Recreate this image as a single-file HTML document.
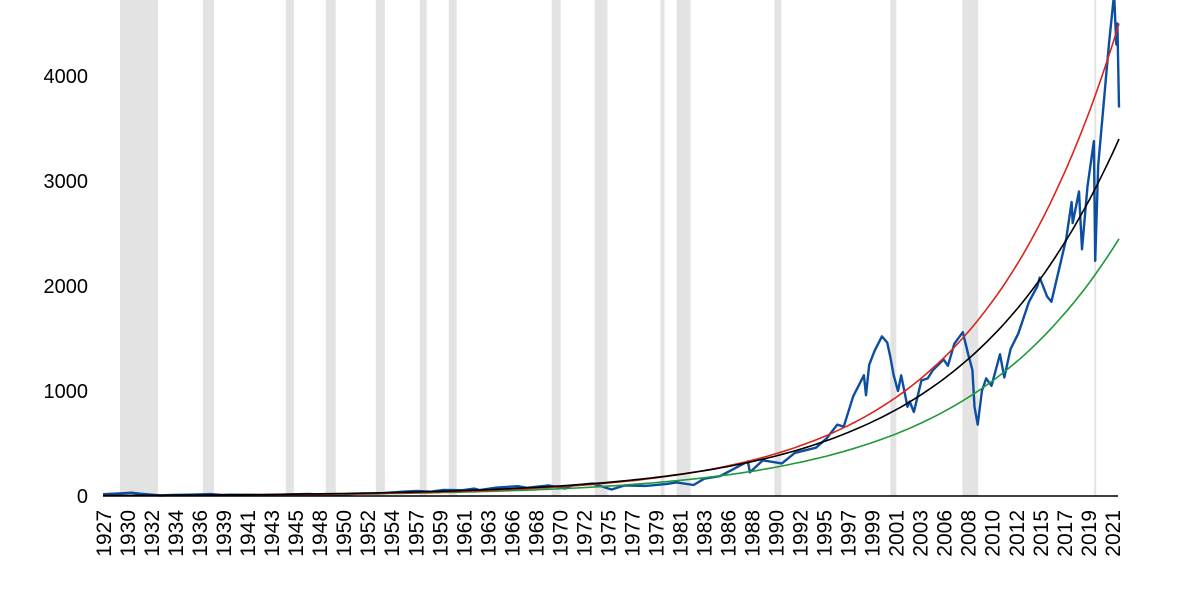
<!DOCTYPE html>
<html><head><meta charset="utf-8"><style>
html,body{margin:0;padding:0;background:#fff;}
svg{display:block;font-family:"Liberation Sans",Arial,sans-serif;}
</style></head><body>
<svg id="chart" width="1200" height="600"></svg>
<script>
const recessions = [[1929.58,1933.11],[1937.29,1938.32],[1945.0,1945.75],[1948.72,1949.65],[1953.37,1954.21],[1957.46,1958.11],[1960.16,1960.9],[1969.73,1970.57],[1973.72,1974.93],[1979.86,1980.23],[1981.35,1982.65],[1990.45,1991.1],[2001.23,2001.79],[2007.93,2009.41],[2020.19,2020.38]];
const trendYears = [1928,1932.95,1937.9,1942.85,1947.8,1952.75,1957.69,1962.64,1967.59,1972.54,1977.49,1982.44,1987.39,1992.34,1997.29,2002.24,2007.18,2012.13,2017.08,2022.5];
const trendMid = [5.2,7.3,10.2,14.4,20.2,28.4,39.8,56,78.6,110,155,218,306,430,605,849,1193,1676,2355,3400];
const trendHigh = [3.5,5.1,7.4,10.8,15.7,22.9,33.3,48.5,70.5,103,149,217,316,460,670,974,1417,2062,3001,4500];
const trendLow = [3.7,5.3,7.3,10.4,14.5,20.4,28.7,40.3,56.6,79.2,112,157,220,310,436,611,859,1207,1696,2450];
const spYears = [1928,1928.99,1930.67,1931.46,1933.35,1934.43,1935.92,1938.0,1939.09,1939.88,1943.14,1944.83,1947.2,1947.8,1950.17,1951.76,1953.73,1955.71,1957.2,1958.48,1959.67,1961.45,1962.54,1963.04,1964.62,1966.6,1967.39,1969.47,1970.96,1971.55,1973.53,1975.31,1976.5,1978.48,1980.46,1981.35,1982.93,1983.92,1985.41,1987.98,1988.17,1989.37,1991.15,1992.34,1994.32,1995.31,1996.3,1996.89,1997.78,1998.77,1998.97,1999.27,1999.76,2000.45,2000.95,2001.24,2001.54,2001.94,2002.24,2002.83,2003.03,2003.42,2004.12,2004.71,2005.2,2006.19,2006.59,2007.18,2007.97,2008.47,2008.86,2009.06,2009.36,2009.75,2010.15,2010.64,2011.43,2011.83,2012.42,2013.14,2014.13,2014.92,2015.12,2015.81,2016.21,2016.9,2017.59,2018.09,2018.19,2018.78,2019.06,2019.57,2020.17,2020.29,2020.57,2020.96,2021.56,2022.04,2022.25,2022.35,2022.5];
const spValues = [17,22,31,22,5,10,12,18,10,12,8,13,19,15,14,22,25,40,48,41,58,55,70,56,80,93,78,100,70,98,118,62,100,96,115,130,105,165,190,330,225,340,310,410,460,550,680,660,950,1150,960,1250,1380,1520,1460,1320,1150,1000,1150,850,900,800,1100,1120,1200,1300,1240,1450,1560,1350,1200,850,680,1000,1120,1050,1350,1130,1400,1550,1850,2000,2080,1900,1850,2150,2450,2800,2600,2900,2350,2950,3380,2240,3150,3600,4300,4780,4300,4500,3700];
const yTicks = [0,1000,2000,3000,4000];
const xLabels = ["1927","1930","1932","1934","1936","1939","1941","1943","1945","1948","1950","1952","1954","1957","1959","1961","1963","1966","1968","1970","1972","1975","1977","1979","1981","1983","1986","1988","1990","1992","1995","1997","1999","2001","2003","2006","2008","2010","2012","2015","2017","2019","2021"];

const NS = "http://www.w3.org/2000/svg";
const svg = document.getElementById('chart');
const X0 = 103, X1 = 1119, T0 = 1928, T1 = 2022.5;
const Y0 = 496, PXPER = 105/1000;
const xs = t => X0 + (t - T0) * (X1 - X0) / (T1 - T0);
const ys = v => Y0 - v * PXPER;
function mk(tag, attrs){const e=document.createElementNS(NS,tag);for(const k in attrs)e.setAttribute(k,attrs[k]);svg.appendChild(e);return e;}

recessions.forEach(r=>{
  const e = mk('rect',{x:xs(r[0]),y:0,width:Math.max(2,xs(r[1])-xs(r[0])),height:Y0,fill:'#e3e3e3'});
  
  
});

yTicks.forEach(v=>{
  const t = mk('text',{x:88,y:ys(v)+7,'text-anchor':'end','font-size':20,fill:'#000'});
  t.textContent = v;
  
  
});

xLabels.forEach((l,i)=>{
  const x = 103 + i*24.02;
  const t = mk('text',{x:0,y:0,transform:`translate(${x+8},510) rotate(-90)`,'text-anchor':'end','font-size':21,fill:'#000'});
  t.textContent = l;
  
  
});

function smoothPath(xsArr, vals){
  const steps=[];
  for(let i=0;i<xsArr.length-1;i++){
    const a=xsArr[i],b=xsArr[i+1],va=vals[i],vb=vals[i+1];
    for(let k=0;k<10;k++){const f=k/10;const t=a+(b-a)*f;const v=Math.exp(Math.log(va)+(Math.log(vb)-Math.log(va))*f);steps.push([xs(t),ys(v)]);}
  }
  steps.push([xs(xsArr[xsArr.length-1]),ys(vals[vals.length-1])]);
  return 'M'+steps.map(p=>p[0].toFixed(1)+','+p[1].toFixed(1)).join('L');
}
const sp = mk('path',{d:'M'+spYears.map((t,i)=>xs(t).toFixed(1)+','+ys(spValues[i]).toFixed(1)).join('L'),fill:'none',stroke:'#0b4ea2','stroke-width':2.4,'stroke-linejoin':'round'});


const gl = mk('path',{d:smoothPath(trendYears,trendLow),fill:'none',stroke:'#1e9a3a','stroke-width':1.6});


const rl = mk('path',{d:smoothPath(trendYears,trendHigh),fill:'none',stroke:'#d9261c','stroke-width':1.6});


const bl = mk('path',{d:smoothPath(trendYears,trendMid),fill:'none',stroke:'#000','stroke-width':1.6});



const ax = mk('line',{x1:X0,x2:1118,y1:Y0,y2:Y0,stroke:'#000','stroke-width':1.5});


</script>
</body></html>
